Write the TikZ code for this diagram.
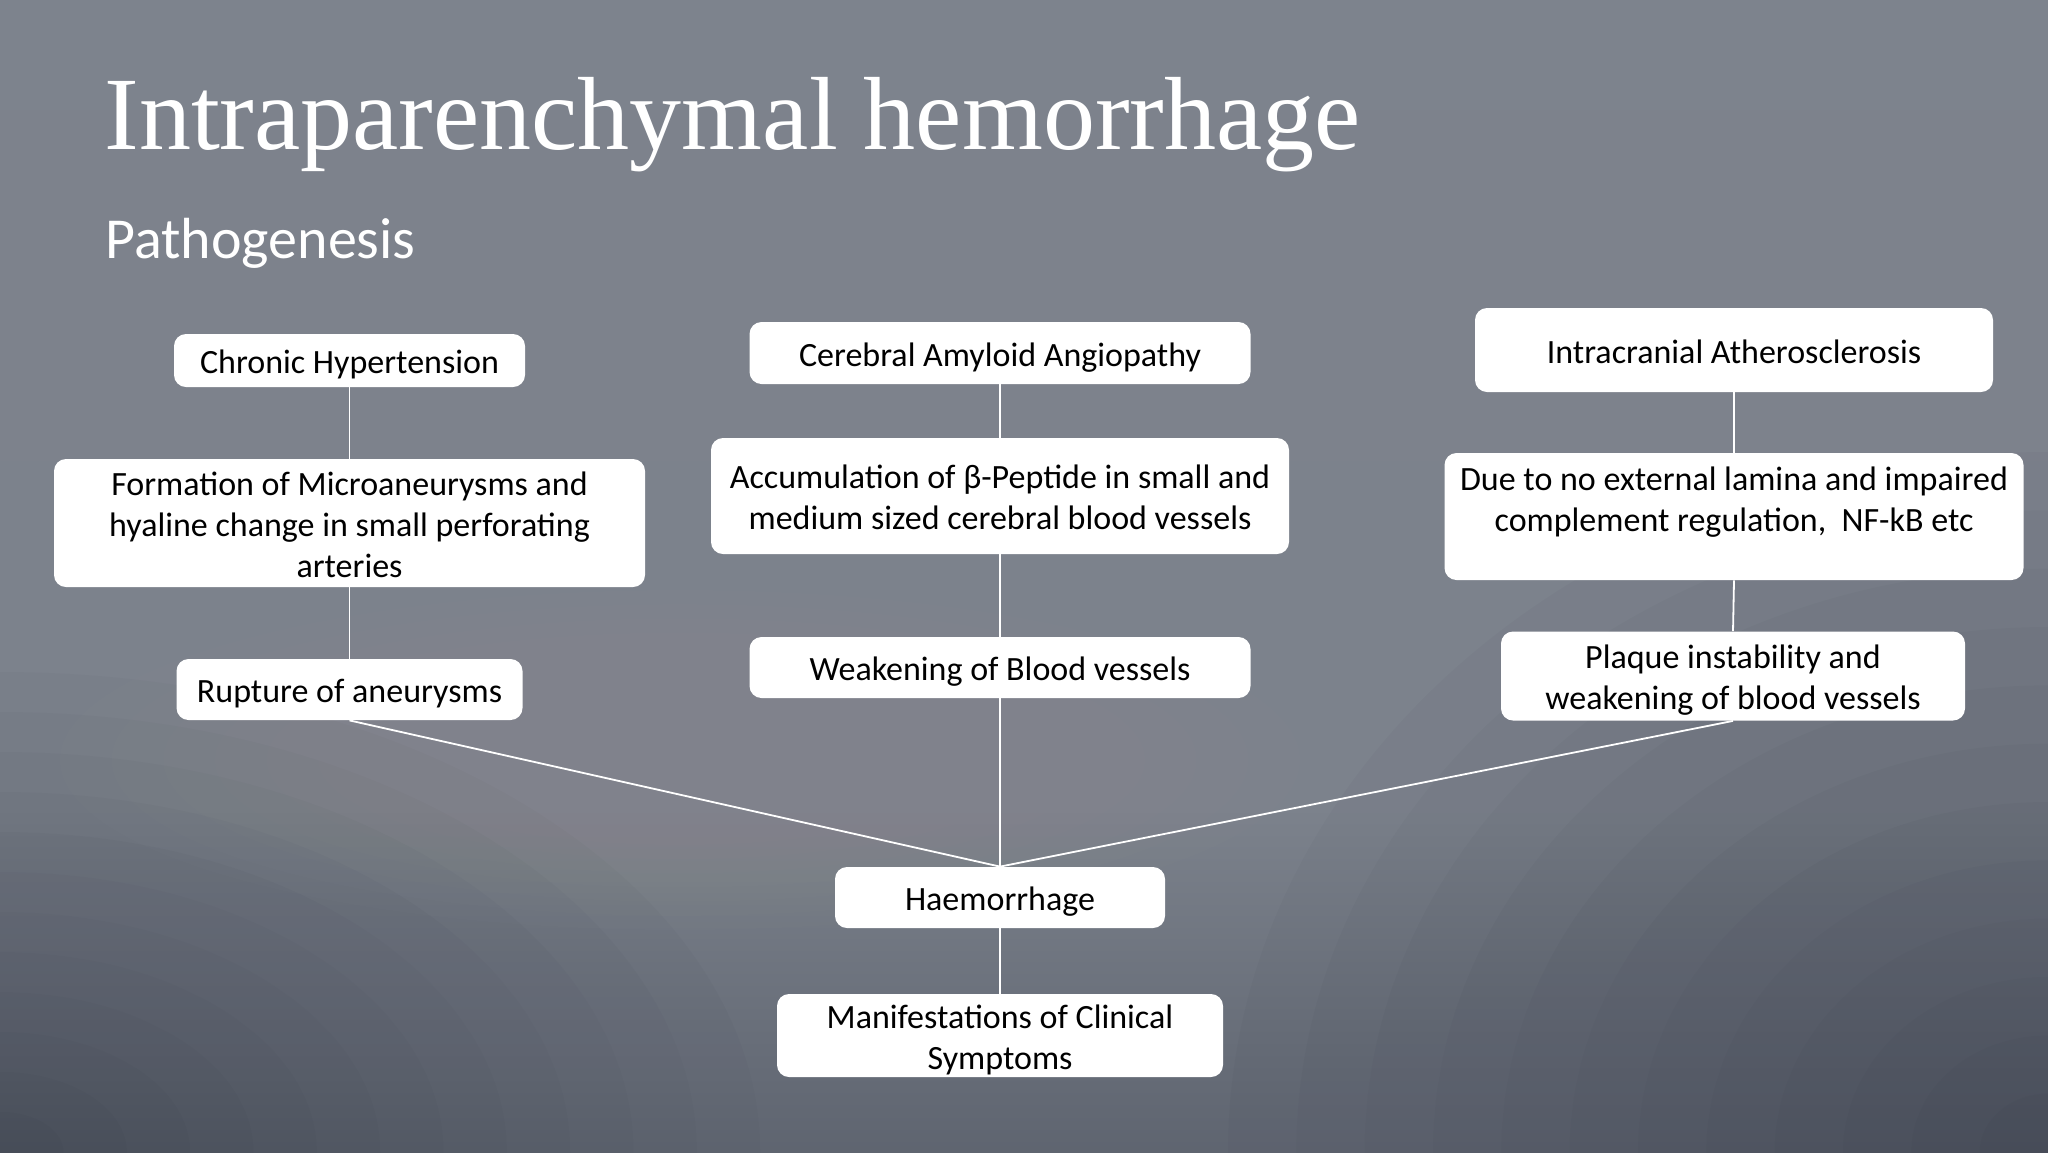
\documentclass[tikz,border=0pt]{standalone}
\usepackage{fontspec}
\setmainfont{Carlito}
\newfontfamily\titlefont{Liberation Serif}
\definecolor{bgtop}{RGB}{126,131,141}
\definecolor{bgmid}{RGB}{124,130,140}
\definecolor{bglow}{RGB}{104,110,121}
\definecolor{bglower}{RGB}{76,82,94}
\definecolor{bgbot}{RGB}{54,59,72}
\definecolor{darkpatch}{RGB}{40,44,58}
\pgfdeclareverticalshading{bgshade}{100bp}{color(0bp)=(bgbot); color(15bp)=(bglower); color(30bp)=(bglow); color(40bp)=(bgmid); color(100bp)=(bgtop)}
\newcommand\bt[2][-2.5pt]{\raisebox{#1}[\height][\depth]{\begin{tabular}{@{}c@{}}#2\end{tabular}}}
\tikzset{
  box/.style={draw=none, fill=white, rounded corners=6pt, text=black,
    font=\fontsize{17pt}{20.5pt}\selectfont, inner sep=0pt},
  link/.style={draw=white, line width=0.9pt}
}
\begin{document}
\begin{tikzpicture}[x=0.5pt,y=-0.5pt]
\useasboundingbox (0,0) rectangle (2048,1152);
\shade[shading=bgshade] (0,0) rectangle (2048,1152);
\foreach \k in {1,...,12}{
  \fill[darkpatch, fill opacity=0.03] (0,1152) ellipse ({760*\k/12} and {480*\k/12});
  \fill[darkpatch, fill opacity=0.035] (2048,1152) ellipse ({820*\k/12} and {700*\k/12});
  \fill[white, fill opacity=0.006] (680,760) ellipse ({620*\k/12} and {170*\k/12});
}

\node[text=white, anchor=base west, inner sep=0pt, font=\titlefont\fontsize{52pt}{60pt}\selectfont] (title) at (104,149) {Intraparenchymal hemorrhage};
\node[text=white, anchor=base west, inner sep=0pt, font=\fontsize{29pt}{34pt}\selectfont] (sub) at (105,258) {Pathogenesis};

\node[box, minimum width=175.5pt, minimum height=26.5pt] (ch) at (349.5,360.5) {\bt{Chronic Hypertension}};
\node[box, minimum width=295.5pt, minimum height=64pt] (fm) at (349.5,523) {\bt{Formation of Microaneurysms and\\hyaline change in small perforating\\arteries}};
\node[box, minimum width=173pt, minimum height=30.5pt] (ru) at (349.5,689.5) {\bt{Rupture of aneurysms}};

\node[box, minimum width=250.5pt, minimum height=31pt] (caa) at (1000,353) {\bt{Cerebral Amyloid Angiopathy}};
\node[box, minimum width=289pt, minimum height=58pt] (acc) at (1000,496) {\bt{Accumulation of β-Peptide in small and\\medium sized cerebral blood vessels}};
\node[box, minimum width=250.5pt, minimum height=30.5pt] (wk) at (1000,667.5) {\bt{Weakening of Blood vessels}};

\node[box, minimum width=259pt, minimum height=42pt] (ia) at (1734,350) {\bt{Intracranial Atherosclerosis}};
\node[box, minimum width=289.5pt, minimum height=63.5pt] (due) at (1734,516.5) {\bt[7pt]{Due to no external lamina and impaired\\complement regulation,\ \ NF-kB etc}};
\node[box, minimum width=232pt, minimum height=44.5pt] (pl) at (1733,676) {\bt{Plaque instability and\\weakening of blood vessels}};

\node[box, minimum width=165pt, minimum height=30.5pt] (hm) at (1000,897.5) {\bt{Haemorrhage}};
\node[box, minimum width=223pt, minimum height=41.5pt] (mf) at (1000,1035.5) {\bt{Manifestations of Clinical\\Symptoms}};

\draw[link] (ch.south) -- (fm.north);
\draw[link] (fm.south) -- (ru.north);
\draw[link] (caa.south) -- (acc.north);
\draw[link] (acc.south) -- (wk.north);
\draw[link] (ia.south) -- (due.north);
\draw[link] (due.south) -- (pl.north);
\draw[link] (ru.south) -- (hm.north);
\draw[link] (wk.south) -- (hm.north);
\draw[link] (pl.south) -- (hm.north);
\draw[link] (hm.south) -- (mf.north);
\end{tikzpicture}
\end{document}
